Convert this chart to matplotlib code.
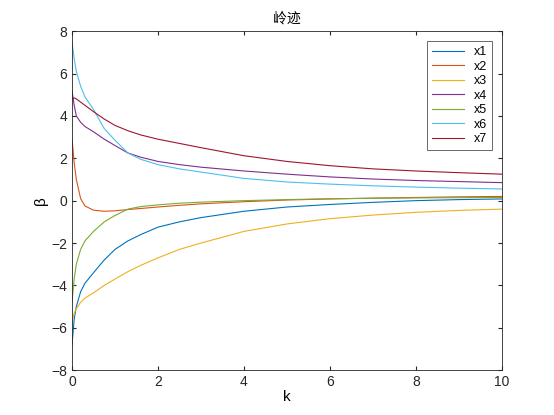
import matplotlib
matplotlib.use("Agg")
import matplotlib.pyplot as plt

plt.rcParams['font.family'] = ['Liberation Sans', 'Noto Sans CJK SC', 'DejaVu Sans']

k = [0, 0.05, 0.1, 0.2, 0.3, 0.5, 0.75, 1, 1.3, 1.6, 2, 2.5, 3, 4, 5, 6, 7, 8, 9, 10]
x1 = [-6.8, -5.6, -5.0, -4.3, -3.9, -3.4, -2.8, -2.3, -1.9, -1.6, -1.25, -1.0, -0.8, -0.5, -0.3, -0.18, -0.08, 0.0, 0.05, 0.08]
x2 = [2.9, 1.8, 1.0, 0.1, -0.25, -0.45, -0.5, -0.48, -0.42, -0.37, -0.3, -0.22, -0.15, -0.05, 0.03, 0.08, 0.12, 0.15, 0.18, 0.2]
x3 = [-5.8, -5.3, -5.1, -4.8, -4.6, -4.35, -4.0, -3.7, -3.35, -3.05, -2.7, -2.3, -2.0, -1.45, -1.1, -0.85, -0.68, -0.55, -0.46, -0.4]
x4 = [5.2, 4.5, 4.0, 3.7, 3.5, 3.25, 2.9, 2.6, 2.25, 2.05, 1.85, 1.7, 1.58, 1.4, 1.25, 1.12, 1.02, 0.95, 0.9, 0.85]
x5 = [-4.8, -3.7, -3.0, -2.3, -1.9, -1.45, -1.0, -0.7, -0.4, -0.28, -0.2, -0.12, -0.07, 0.0, 0.05, 0.09, 0.11, 0.13, 0.14, 0.15]
x6 = [7.5, 6.7, 6.1, 5.4, 4.9, 4.3, 3.4, 2.85, 2.25, 1.95, 1.7, 1.5, 1.35, 1.05, 0.88, 0.78, 0.7, 0.64, 0.59, 0.55]
x7 = [4.8, 4.85, 4.8, 4.65, 4.5, 4.2, 3.85, 3.55, 3.3, 3.1, 2.9, 2.7, 2.5, 2.12, 1.85, 1.65, 1.5, 1.4, 1.32, 1.25]

series = [x1, x2, x3, x4, x5, x6, x7]
names = ['x1', 'x2', 'x3', 'x4', 'x5', 'x6', 'x7']
colors = ['#0072BD', '#D95319', '#EDB120', '#7E2F8E', '#77AC30', '#4DBEEE', '#A2142F']

fig = plt.figure(figsize=(5.54, 4.15), dpi=100)
ax = fig.add_axes([0.13, 0.108, 0.776, 0.817])
for s, n, c in zip(series, names, colors):
    ax.plot(k, s, color=c, lw=0.8, label=n)

ax.set_xlim(0, 10)
ax.set_ylim(-8, 8)
ax.set_xticks(range(0, 11, 2))
ax.set_yticks(range(-8, 9, 2))
ax.tick_params(direction='in', labelsize=10, top=True, right=True, length=3, colors='#262626')
ax.set_title('岭迹', fontsize=10)
ax.set_xlabel('k', fontsize=11, labelpad=1)
ax.set_ylabel('β', fontsize=11, labelpad=2)
leg = ax.legend(loc='upper right', fontsize=9, fancybox=False, edgecolor='#262626',
                handlelength=2.5, borderaxespad=0.8, labelspacing=0.2)
leg.get_frame().set_linewidth(0.6)
for sp in ax.spines.values():
    sp.set_linewidth(0.6)
    sp.set_color('#262626')

fig.savefig('out.png')
